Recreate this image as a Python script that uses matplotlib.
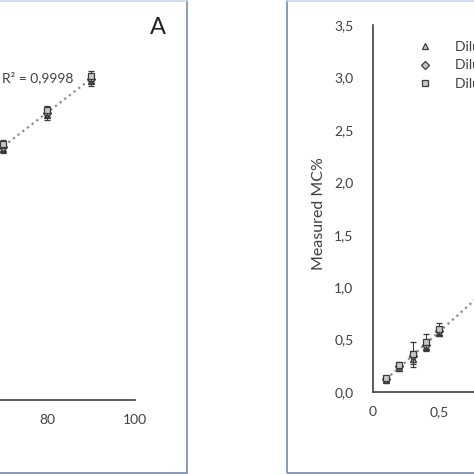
import numpy as np
import matplotlib
matplotlib.use("Agg")
import matplotlib.pyplot as plt
from matplotlib.patches import Rectangle
from matplotlib.lines import Line2D

plt.rcParams['font.family'] = ['Lato', 'DejaVu Sans']

# panel A (left), visible part only
a_added = [70, 80, 90]
a_dil1 = [73.4, 83.3, 93.3]
a_dil2 = [74.1, 84.0, 94.0]
a_dil3 = [74.8, 84.8, 94.8]
a_err = [1.2, 1.3, 1.4]
a_xticks = [80, 100]
a_r2 = "R² = 0,9998"

# panel B (right), visible part only
b_added = [0.1, 0.2, 0.3, 0.4, 0.5]
b_dil1 = [0.11, 0.23, 0.31, 0.43, 0.56]
b_dil2 = [0.12, 0.25, 0.34, 0.45, 0.58]
b_dil3 = [0.13, 0.26, 0.36, 0.48, 0.60]
b_err1 = [0.02, 0.03, 0.04, 0.04, 0.03]
b_err2 = [0.02, 0.03, 0.05, 0.05, 0.04]
b_err3 = [0.02, 0.03, 0.12, 0.07, 0.06]
b_yticks = [0, 0.5, 1.0, 1.5, 2.0, 2.5, 3.0, 3.5]
b_ylabels = ["0,0", "0,5", "1,0", "1,5", "2,0", "2,5", "3,0", "3,5"]
b_xticks = [0, 0.5, 1, 1.5]
b_xlabels = ["0", "0,5", "1", "1,5"]
labels = ["Dilution 1", "Dilution 2", "Dilution 3"]

W = H = 474
fig = plt.figure(figsize=(4.74, 4.74), dpi=100)

def px_axes(x0, y0, x1, y1):
    # pixel box (top-left origin) -> figure fraction axes
    return fig.add_axes([x0 / W, 1 - y1 / H, (x1 - x0) / W, (y1 - y0) / H])

# panel borders
bcol = '#8191b3'
fig.patches.append(Rectangle((-0.5, 1 - 473 / H), 0.5 + 187 / W, 1.2,
                             transform=fig.transFigure, fill=False, ec=bcol, lw=1.3))
fig.patches.append(Rectangle((287 / W, 1 - 473 / H), 1.0, 1.2,
                             transform=fig.transFigure, fill=False, ec=bcol, lw=1.3))
top_y = 1 - 0.6 / H
fig.add_artist(Line2D([0, 187 / W], [top_y, top_y], transform=fig.transFigure,
                      color='#c9d5ea', lw=1.2))
fig.add_artist(Line2D([287 / W, 1], [top_y, top_y], transform=fig.transFigure,
                      color='#c9d5ea', lw=1.2))

mk_style = dict(mfc='#c8c8c8', mec='#3a3a3a', mew=0.9, ls='none',
                ecolor='#3a3a3a', elinewidth=0.8, capsize=2.5, capthick=0.8)
markers = ['^', 'D', 's']
sizes = [5, 4.3, 5]

# ---- panel A ----
axa = px_axes(2.7 - 70 * 4.42, 24, 2.7 + 30 * 4.42, 400)
axa.set_xlim(0, 100)
axa.set_ylim(0, 110)
for k, vals in enumerate([a_dil1, a_dil2, a_dil3]):
    axa.errorbar(a_added, vals, yerr=a_err, marker=markers[k], ms=sizes[k],
                 **mk_style, zorder=3 + k)
fit = np.polyfit(a_added, a_dil2, 1)
xs = np.array([0, a_added[-1]])
axa.plot(xs, np.polyval(fit, xs), ls=':', color='#8c8c8c', lw=1.6, zorder=2)
axa.text(86, 94.2, a_r2, ha='right', va='center', fontsize=10, color='#404040')
for s in ['top', 'right', 'left']:
    axa.spines[s].set_visible(False)
axa.spines['bottom'].set_color('#404040')
axa.spines['bottom'].set_linewidth(1.2)
axa.set_xticks(a_xticks)
axa.set_xticklabels([str(t) for t in a_xticks])
axa.set_yticks([])
axa.tick_params(axis='x', length=0, pad=10, labelsize=10, labelcolor='#404040')
fig.text(158 / W, 1 - 28 / H, "A", ha='center', va='center', fontsize=17, color='#222222')

# ---- panel B ----
axb = px_axes(373, 25, 373 + 3.5 * 132, 392)
axb.set_xlim(0, 3.5)
axb.set_ylim(0, 3.5)
for k, (vals, err) in enumerate(zip([b_dil1, b_dil2, b_dil3], [b_err1, b_err2, b_err3])):
    axb.errorbar(b_added, vals, yerr=err, marker=markers[k], ms=sizes[k], label=labels[k],
                 **mk_style, zorder=3 + k)
allx = b_added * 3
ally = b_dil1 + b_dil2 + b_dil3
fitb = np.polyfit(allx, ally, 1)
xs = np.array([b_added[0], 3.3])
axb.plot(xs, np.polyval(fitb, xs), ls=':', color='#8c8c8c', lw=1.6, zorder=2)
for s in ['top', 'right']:
    axb.spines[s].set_visible(False)
for s in ['bottom', 'left']:
    axb.spines[s].set_color('#404040')
    axb.spines[s].set_linewidth(1.2)
axb.set_yticks(b_yticks)
axb.set_yticklabels(b_ylabels)
axb.set_xticks(b_xticks)
axb.set_xticklabels(b_xlabels)
axb.tick_params(axis='both', length=0, labelsize=10, labelcolor='#404040')
axb.tick_params(axis='x', pad=10)
axb.tick_params(axis='y', pad=14)
axb.set_ylabel("Measured MC%", fontsize=11.5, color='#404040')
axb.yaxis.set_label_coords(-0.102, 0.485)
h, l = axb.get_legend_handles_labels()
h = [hh[0] for hh in h]
leg = axb.legend(h, l, loc='upper left', bbox_to_anchor=(0.07, 0.99), frameon=False,
                 fontsize=10, handlelength=1.0, handletextpad=1.7, labelspacing=0.45)
for t in leg.get_texts():
    t.set_color('#404040')

fig.savefig("out.png", dpi=100)
